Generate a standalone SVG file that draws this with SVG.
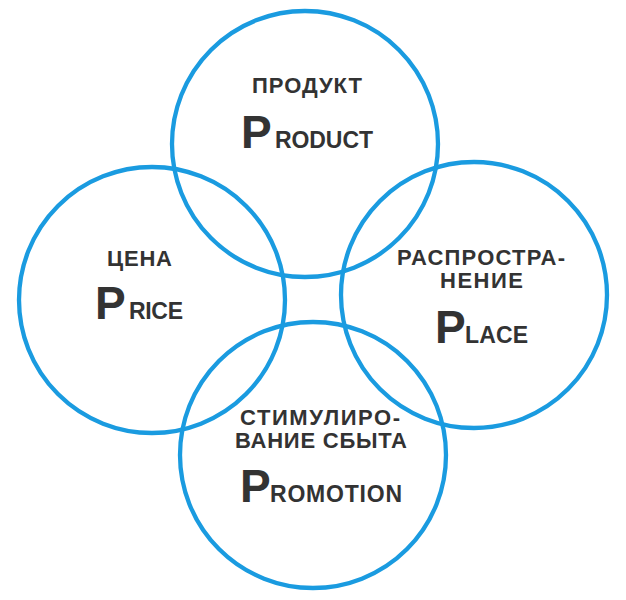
<svg xmlns="http://www.w3.org/2000/svg" width="626" height="600" viewBox="0 0 626 600">
<style>
.c{fill:none;stroke:#1a9be0;stroke-width:4.3}
.t{font-family:"Liberation Sans",Arial,sans-serif;font-weight:bold;fill:#333;font-size:22px}
.b{font-family:"Liberation Sans",Arial,sans-serif;font-weight:bold;fill:#333;font-size:46px}
.s{font-family:"Liberation Sans",Arial,sans-serif;font-weight:bold;fill:#333;font-size:23px}
</style>
<rect width="626" height="600" fill="#fff"/>
<g id="product">
<circle class="c" cx="305" cy="144" r="133"/>
<text class="t" x="252" y="93" textLength="110" lengthAdjust="spacing">ПРОДУКТ</text>
<text class="b" x="241" y="148">P</text>
<text class="s" x="275" y="148" textLength="98" lengthAdjust="spacing">RODUCT</text>
</g>
<g id="price">
<circle class="c" cx="152" cy="300" r="133"/>
<text class="t" x="107" y="266" textLength="65" lengthAdjust="spacing">ЦЕНА</text>
<text class="b" x="95" y="319">P</text>
<text class="s" x="129" y="319" textLength="54" lengthAdjust="spacing">RICE</text>
</g>
<g id="place">
<circle class="c" cx="474" cy="295" r="133"/>
<text class="t" x="397" y="265" textLength="168" lengthAdjust="spacing">РАСПРОСТРА-</text>
<text class="t" x="440" y="288" textLength="83" lengthAdjust="spacing">НЕНИЕ</text>
<text class="b" x="435" y="343">P</text>
<text class="s" x="465" y="343" textLength="63" lengthAdjust="spacing">LACE</text>
</g>
<g id="promotion">
<circle class="c" cx="313" cy="455" r="133"/>
<text class="t" x="240" y="425" textLength="160" lengthAdjust="spacing">СТИМУЛИРО-</text>
<text class="t" x="235" y="448" textLength="172" lengthAdjust="spacing">ВАНИЕ СБЫТА</text>
<text class="b" x="240" y="502">P</text>
<text class="s" x="270" y="502" textLength="132" lengthAdjust="spacing">ROMOTION</text>
</g>
</svg>
